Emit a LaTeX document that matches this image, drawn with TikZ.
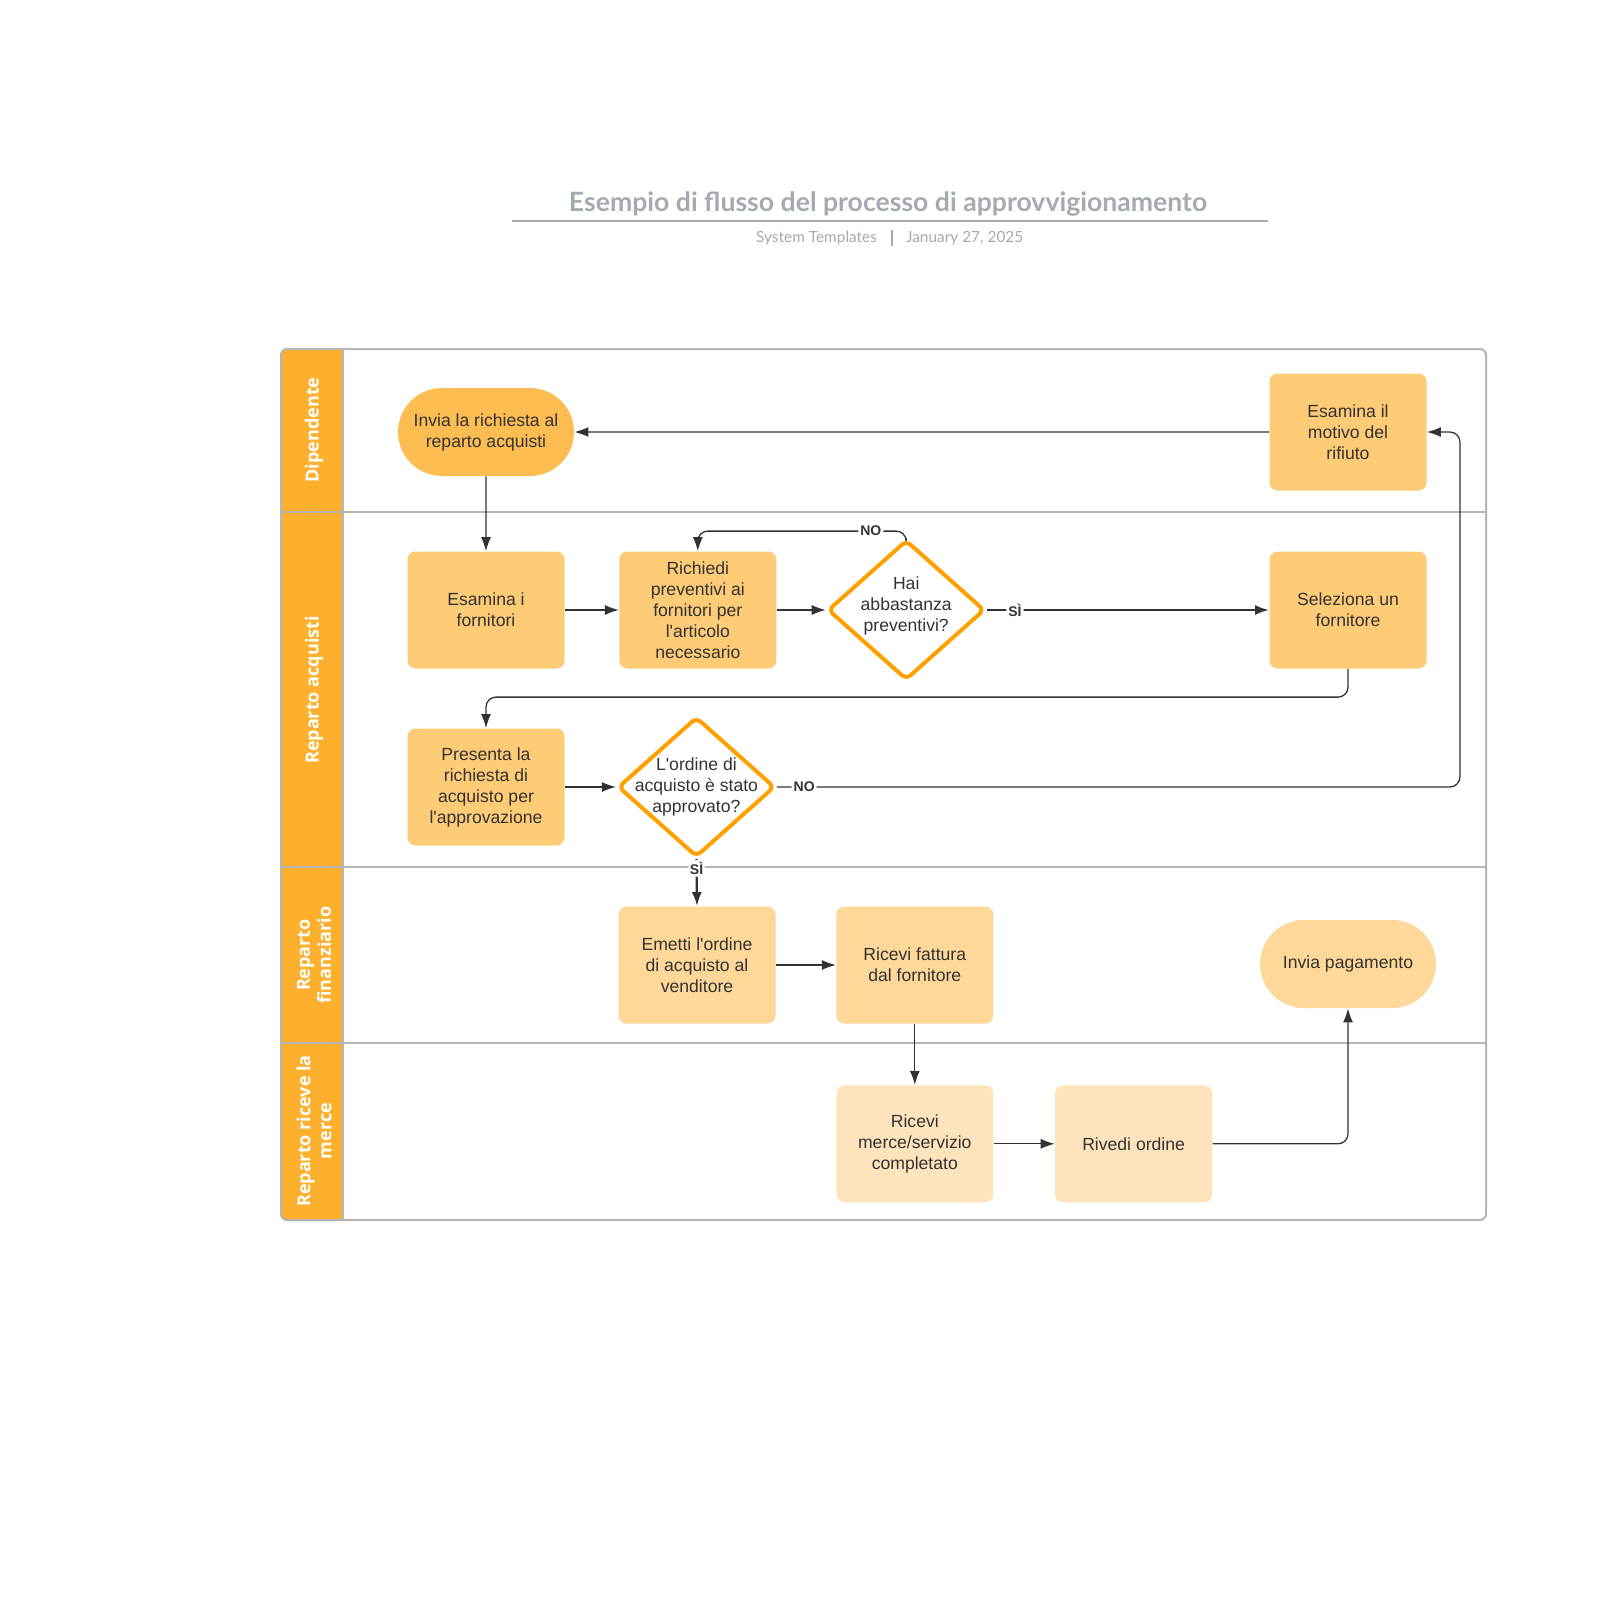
\documentclass[tikz,border=0pt]{standalone}
\usepackage{fontspec}
\setmainfont{Liberation Sans}
\newfontfamily\lanefont{Open Sans}
\newfontfamily\titlefont{Lato}
\usetikzlibrary{arrows.meta, positioning, shapes.geometric, shapes.misc}

\definecolor{laneorange}{HTML}{FCB02D}
\definecolor{termorange}{HTML}{FDBD52}
\definecolor{boxorange}{HTML}{FECB76}
\definecolor{boxlight}{HTML}{FED898}
\definecolor{boxpale}{HTML}{FEE4BC}
\definecolor{decorange}{HTML}{FFA000}
\definecolor{framegray}{HTML}{B4B4B4}
\definecolor{inkgray}{HTML}{333333}
\definecolor{titlegray}{HTML}{A5A9B1}
\newcommand{\ap}{\textquotesingle}

\begin{document}
\begin{tikzpicture}[
  x=0.5pt, y=-0.5pt,
  font=\fontsize{8.8}{10.5}\selectfont,
  box/.style={
    rounded corners=4pt,
    align=center,
    text=inkgray,
    inner sep=0pt,
    minimum width=78.5pt,
    minimum height=58.5pt,
    fill=boxorange
  },
  financebox/.style={box,fill=boxlight},
  receivebox/.style={box,fill=boxpale},
  termbox/.style={rounded rectangle, align=center, text=inkgray, inner sep=0pt,
    minimum width=88pt, minimum height=44pt, fill=termorange},
  paybox/.style={termbox,fill=boxlight},
  decision/.style={diamond, draw=decorange, line width=2pt, rounded corners=3pt,
    fill=white, inner sep=0pt, minimum width=78.5pt, minimum height=70pt},
  dtext/.style={align=center, text=inkgray},
  lanetitle/.style={rotate=90, align=center, text=white,
    font=\lanefont\bfseries\fontsize{9}{10.5}\selectfont},
  lane/.style={draw=framegray, line width=1pt},
  arrow/.style={-{Latex[length=7pt,width=5pt]}, draw=inkgray, line width=0.65pt, rounded corners=5pt},
  boldarrow/.style={arrow, line width=1.1pt},
  answer/.style={fill=white, inner sep=1pt, text=inkgray, font=\bfseries\fontsize{7}{8}\selectfont}
]
\useasboundingbox (0,0) rectangle (1600,1600);

% --- title ---
\node[font=\titlefont\bfseries\fontsize{13.3}{15}\selectfont, text=titlegray] (title) at (888,204) {Esempio di flusso del processo di approvvigionamento};
\draw[titlegray, line width=1pt] (512,221) -- (1268,221);
\node[anchor=east, text=titlegray, font=\titlefont\fontsize{7.7}{9}\selectfont] (owner) at (884,238) {System Templates};
\node[anchor=west, text=titlegray, font=\titlefont\fontsize{7.7}{9}\selectfont] (date) at (899,238) {January 27, 2025};
\draw[titlegray, line width=0.6pt] (892,230) -- (892,246);

% --- lanes ---
\begin{scope}
  \clip[rounded corners=3pt] (281,349) rectangle (1486,1220);
  \fill[laneorange] (281,349) rectangle (343,1220);
\end{scope}
\draw[lane, rounded corners=3pt] (281,349) rectangle (1486,1220);
\draw[lane] (343,349) -- (343,1220);
\foreach \y in {512,867,1043}
  \draw[lane] (281,\y) -- (1486,\y);

\node[lanetitle] (dip) at (314,430) {Dipendente};
\node[lanetitle] (acq) at (314,690) {Reparto acquisti};
\node[lanetitle] (fin) at (314,955) {Reparto\\finanziario};
\node[lanetitle] (ric) at (314,1131) {Reparto riceve la\\merce};

% --- Dipendente ---
\node[termbox] (invia) at (486,432) {Invia la richiesta al\\reparto acquisti};
\node[box] (motivo) at (1348,432) {Esamina il\\motivo del\\rifiuto};

% --- Reparto acquisti ---
\node[box] (esamina) at (486,610) {Esamina i\\fornitori};
\node[box, right=27pt of esamina] (richiedi) {Richiedi\\preventivi ai\\fornitori per\\l\ap articolo\\necessario};
\node[decision, right=24.5pt of richiedi, label={[dtext, yshift=2pt]center:{Hai\\abbastanza\\preventivi?}}] (hai) {};
\node[box] (seleziona) at (1348,610) {Seleziona un\\fornitore};

\node[box] (presenta) at (486,787) {Presenta la\\richiesta di\\acquisto per\\l\ap approvazione};
\node[decision, right=25.5pt of presenta, label={[dtext]center:{L\ap ordine di\\acquisto è stato\\approvato?}}] (ordine) {};

% --- Reparto finanziario ---
\node[financebox] (emetti) at (697,965) {Emetti l\ap ordine\\di acquisto al\\venditore};
\node[financebox, right=30pt of emetti] (fattura) {Ricevi fattura\\dal fornitore};
\node[paybox] (pagamento) at (1348,964) {Invia pagamento};

% --- Reparto riceve la merce ---
\node[receivebox, below=30.5pt of fattura] (merce) {Ricevi\\merce/servizio\\completato};
\node[receivebox, right=30.5pt of merce] (rivedi) {Rivedi ordine};

% --- arrows ---
\draw[arrow] (invia) -- (esamina);
\draw[arrow] (esamina) -- (richiedi);
\draw[arrow] (richiedi) -- (hai);
\draw[boldarrow] (hai) -- node[answer, pos=0.1]{SÌ} (seleziona);
\draw[arrow] (hai.north) |- node[answer, pos=0.585]{NO} ([yshift=10pt]richiedi.north) -- (richiedi.north);
\draw[arrow] (seleziona.south) |- ([yshift=15.5pt]presenta.north) -- (presenta.north);

\draw[arrow] (presenta) -- (ordine);
\draw[arrow] (ordine.east) -| node[answer, pos=0.02]{NO} ([xshift=16.5pt]motivo.east) -- (motivo.east);
\draw[arrow] (motivo) -- (invia);
\draw[boldarrow] (ordine.south) -- node[answer, pos=0.2]{SÌ} (emetti.north);

\draw[arrow] (emetti) -- (fattura);
\draw[arrow] (fattura) -- (merce);
\draw[arrow] (merce) -- (rivedi);
\draw[arrow] (rivedi.east) -| (pagamento.south);

\end{tikzpicture}
\end{document}
